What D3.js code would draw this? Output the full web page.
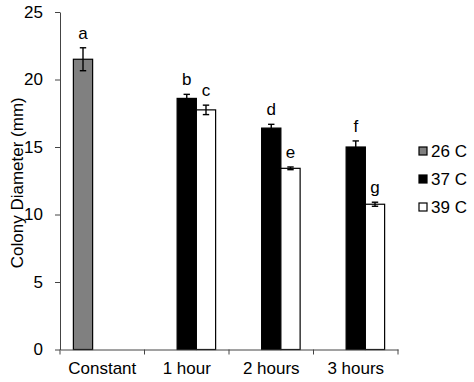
<!DOCTYPE html>
<html lang="en">
<head>
  <meta charset="UTF-8">
  <title>Colony Diameter</title>
  <script src="https://cdn.jsdelivr.net/npm/d3@7"></script>
  <style>
    body { margin: 0; background: #fff; }
    svg { display: block; font-family: "Liberation Sans", Arial, sans-serif; }
    .axis path, .axis line { stroke: #444; }
    .axis text { font-size: 17px; fill: #000; font-family: "Liberation Sans", Arial, sans-serif; }
  </style>
</head>
<body>
  <div id="chart"></div>
  <script>
    const categories = ['Constant', '1 hour', '2 hours', '3 hours']
    const series = ['26 C', '37 C', '39 C']
    const colors = ['#808080', '#000000', '#ffffff']
    const yTicks = [0, 5, 10, 15, 20, 25]

    // one entry per bar: category, series, mean, error, letter
    const barCategory = ['Constant', '1 hour', '1 hour', '2 hours', '2 hours', '3 hours', '3 hours']
    const barSeries = ['26 C', '37 C', '39 C', '37 C', '39 C', '37 C', '39 C']
    const barValues = [21.5, 18.6, 17.75, 16.4, 13.42, 15.0, 10.76]
    const barErrors = [0.85, 0.3, 0.35, 0.28, 0.1, 0.45, 0.15]
    const barLetters = ['a', 'b', 'c', 'd', 'e', 'f', 'g']

    const width = 474
    const height = 382
    const margin = { top: 12, right: 76, bottom: 32.5, left: 60 }

    const svg = d3.select('#chart')
      .append('svg')
      .attr('width', width)
      .attr('height', height)

    const x0 = d3.scaleBand()
      .domain(categories)
      .range([margin.left, width - margin.right])
      .padding(0)

    const x1 = d3.scaleBand()
      .domain(series)
      .range([0, x0.bandwidth()])
      .paddingInner(0)
      .paddingOuter(0.695)

    const y = d3.scaleLinear()
      .domain([0, 25])
      .range([height - margin.bottom, margin.top])

    const color = d3.scaleOrdinal().domain(series).range(colors)

    const bars = barValues.map((v, i) => ({
      cat: barCategory[i], ser: barSeries[i], value: v, err: barErrors[i], letter: barLetters[i]
    }))

    // bars
    svg.append('g')
      .selectAll('rect')
      .data(bars)
      .enter()
      .append('rect')
      .attr('x', d => x0(d.cat) + x1(d.ser))
      .attr('y', d => y(d.value))
      .attr('width', x1.bandwidth())
      .attr('height', d => y(0) - y(d.value))
      .attr('fill', d => color(d.ser))
      .attr('stroke', '#000')
      .attr('stroke-width', 1.2)

    // error bars
    const eb = svg.append('g')
      .attr('stroke', '#000')
      .attr('stroke-width', 1.4)
    const cx = d => x0(d.cat) + x1(d.ser) + x1.bandwidth() / 2
    eb.selectAll('line.v')
      .data(bars)
      .enter()
      .append('line')
      .attr('class', 'v')
      .attr('x1', cx).attr('x2', cx)
      .attr('y1', d => y(d.value - d.err))
      .attr('y2', d => y(d.value + d.err))
    eb.selectAll('line.top')
      .data(bars)
      .enter()
      .append('line')
      .attr('class', 'top')
      .attr('x1', d => cx(d) - 3.2).attr('x2', d => cx(d) + 3.2)
      .attr('y1', d => y(d.value + d.err))
      .attr('y2', d => y(d.value + d.err))
    eb.selectAll('line.bot')
      .data(bars)
      .enter()
      .append('line')
      .attr('class', 'bot')
      .attr('x1', d => cx(d) - 3.2).attr('x2', d => cx(d) + 3.2)
      .attr('y1', d => y(d.value - d.err))
      .attr('y2', d => y(d.value - d.err))

    // significance letters
    svg.append('g')
      .selectAll('text')
      .data(bars)
      .enter()
      .append('text')
      .attr('x', cx)
      .attr('y', d => y(d.value + d.err) - 9)
      .attr('text-anchor', 'middle')
      .style('font-size', '17px')
      .text(d => d.letter)

    // axes
    const yAxis = d3.axisLeft(y)
      .tickValues(yTicks)
      .tickSize(5)
      .tickSizeOuter(0)
      .tickPadding(12)
    svg.append('g')
      .attr('class', 'axis')
      .attr('transform', `translate(${margin.left},0)`)
      .call(yAxis)

    const xAxis = d3.axisBottom(x0)
      .tickSize(0)
      .tickSizeOuter(0)
      .tickPadding(12)
    const gx = svg.append('g')
      .attr('class', 'axis')
      .attr('transform', `translate(0,${y(0)})`)
      .call(xAxis)
    // tick marks at category boundaries
    const bounds = categories.map(c => x0(c)).concat([x0.range()[1]])
    gx.selectAll('line.sep')
      .data(bounds)
      .enter()
      .append('line')
      .attr('class', 'sep')
      .attr('x1', d => d).attr('x2', d => d)
      .attr('y1', 0).attr('y2', 5)

    svg.append('text')
      .attr('transform', `translate(23, ${(y(0) + y(25)) / 2 + 2}) rotate(-90)`)
      .attr('text-anchor', 'middle')
      .style('font-size', '17px')
      .text('Colony Diameter (mm)')

    // legend
    const legend = svg.append('g')
    legend.selectAll('rect')
      .data(series)
      .enter()
      .append('rect')
      .attr('x', 419)
      .attr('y', (d, i) => 147 + i * 28)
      .attr('width', 8)
      .attr('height', 8)
      .attr('fill', d => color(d))
      .attr('stroke', '#000')
      .attr('stroke-width', 1.2)
    legend.selectAll('text')
      .data(series)
      .enter()
      .append('text')
      .attr('x', 431)
      .attr('y', (d, i) => 151 + i * 28)
      .attr('dy', '0.35em')
      .style('font-size', '17px')
      .text(d => d)
  </script>
</body>
</html>
